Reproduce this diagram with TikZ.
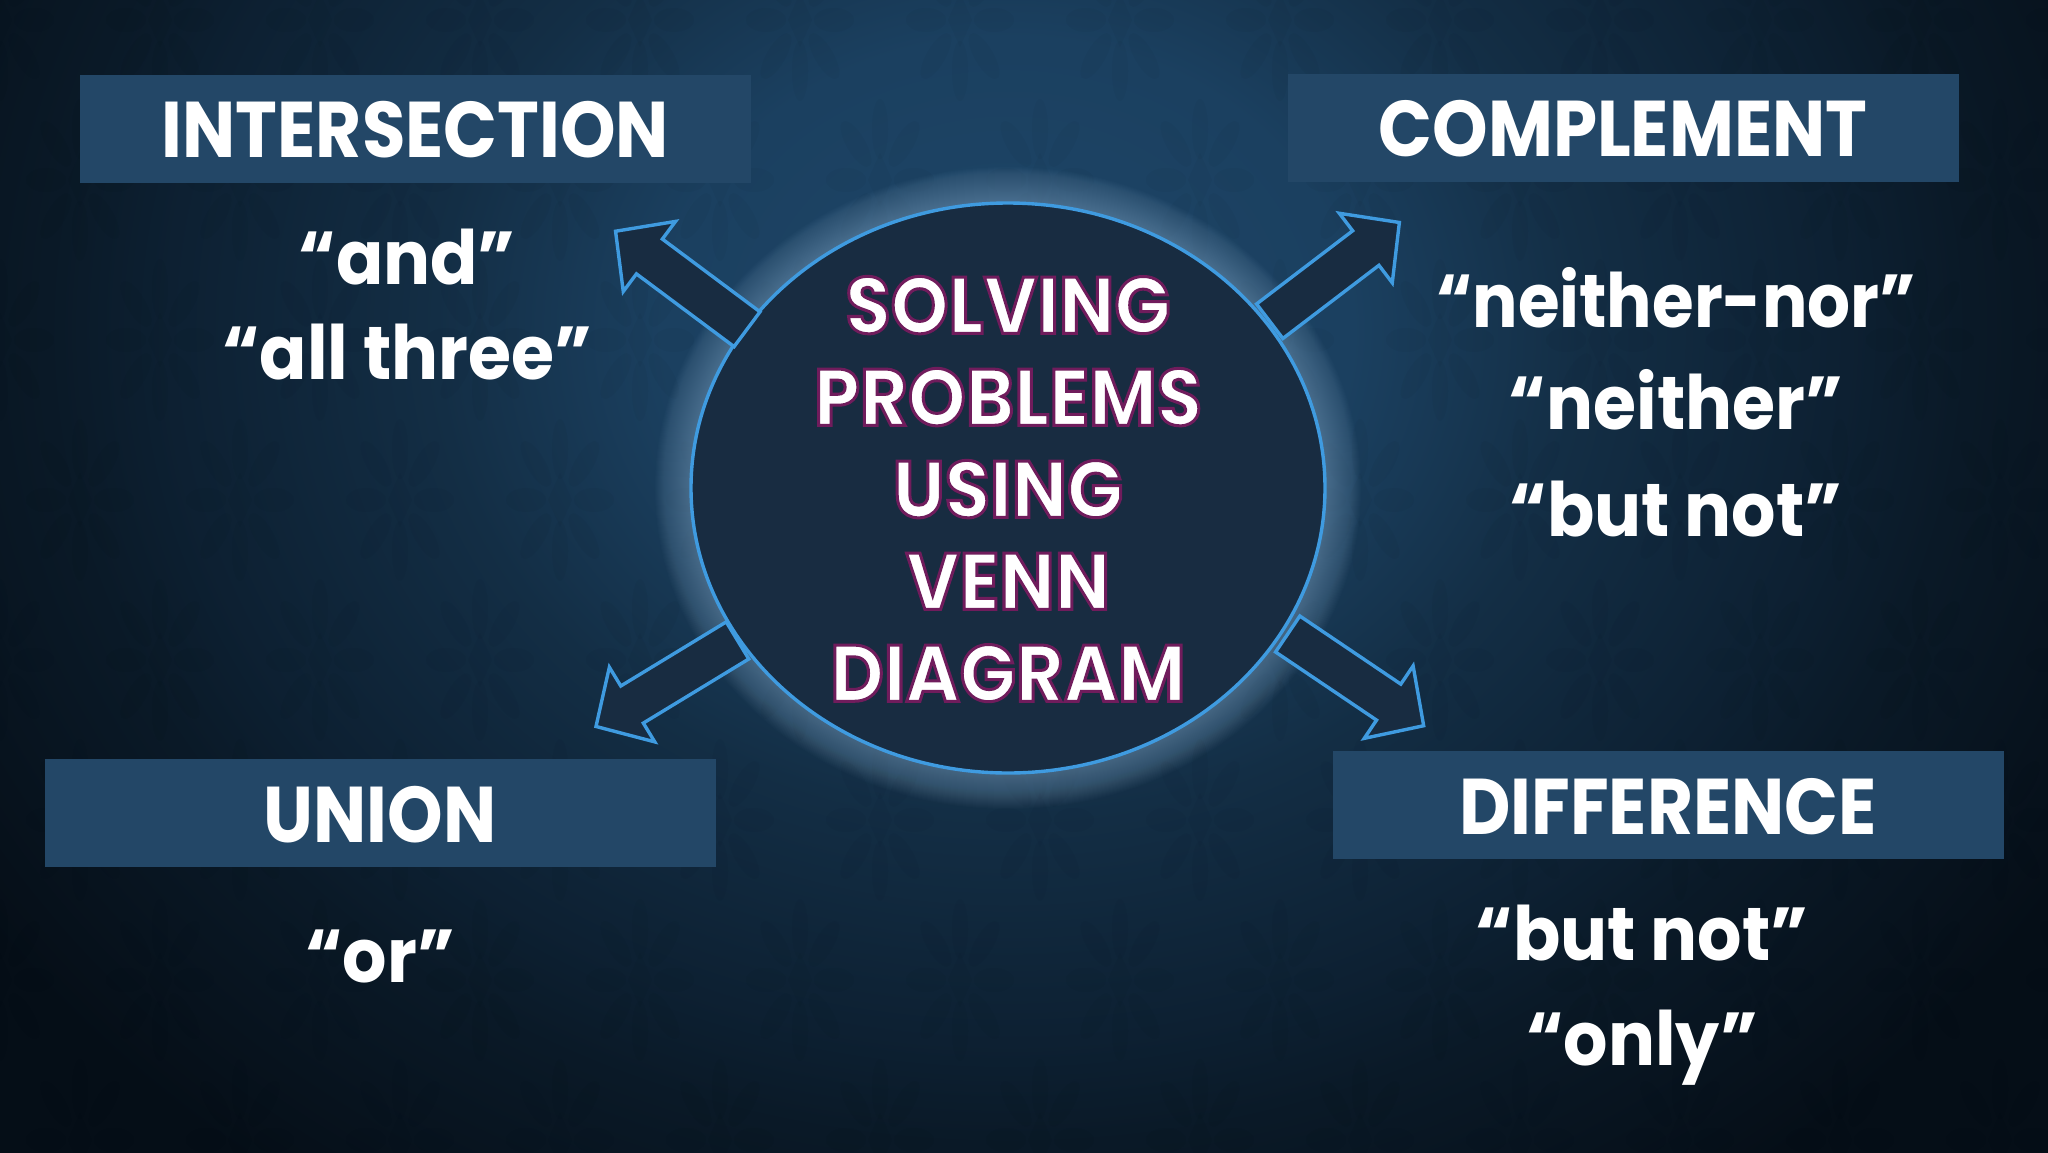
\documentclass[tikz,border=0pt]{standalone}
\usepackage{fontspec}
\setmainfont{Poppins}[BoldFont=Poppins Bold]
\newfontfamily\headfont{Poppins Bold}[FakeStretch=0.895]
\newfontfamily\quotefont{Poppins Bold}[FakeStretch=0.93]
\newfontfamily\titlefont{Poppins Bold}[FakeStretch=0.92]
\usetikzlibrary{shapes, arrows, calc}
\definecolor{boxblue}{HTML}{234767}
\definecolor{ovalfill}{HTML}{182C41}
\definecolor{ovalline}{HTML}{3F9BE0}
\definecolor{halocol}{HTML}{7FA3C2}
\pgfdeclareradialshading{slideback}{\pgfpoint{0bp}{0bp}}{%
  rgb(0bp)=(.12,.275,.41);
  rgb(6.3bp)=(.105,.25,.375);
  rgb(10.4bp)=(.075,.18,.27);
  rgb(15.3bp)=(.05,.125,.195);
  rgb(17.3bp)=(.04,.10,.155);
  rgb(22.5bp)=(.02,.055,.09);
  rgb(50bp)=(.02,.055,.09)}
\tikzset{
  headbox/.style={fill=boxblue, minimum width=671pt, minimum height=108pt, inner sep=0pt,
    text height=58pt, text depth=0pt, text=white, font=\fontsize{79}{79}\headfont},
  quoteline/.style={text=white, anchor=base, inner sep=0pt,
    font=\fontsize{75}{75}\quotefont},
  blockarrow/.style={single arrow, fill=ovalfill, draw=ovalline, line width=3.4pt, inner sep=0pt,
    text height=40pt, text depth=0pt, minimum width=84pt, single arrow head extend=22pt,
    single arrow tip angle=92, single arrow head indent=0pt},
  titletext/.style={text=white, align=center, inner sep=0pt,
    font=\fontsize{80}{92}\titlefont},
  damask/.style={fill=black, opacity=.028},
}
% outlined glyphs, stroke and fill
\newcommand{\rimtext}[1]{\special{pdf:code q 2 Tr 3 w 0.44 0.11 0.36 RG}#1\special{pdf:code 0 Tr Q}}
% one motif of the wallpaper
\newcommand{\damaskmotif}[2]{%
  \begin{scope}[shift={(#1,#2)}, yscale=1.5]
    \foreach \a in {0,45,...,315}
      \fill[damask, rotate=\a] (34,0) ellipse (20 and 8);
    \fill[damask] (0,-18) -- (12,0) -- (0,18) -- (-12,0) -- cycle;
  \end{scope}
}
\begin{document}
\begin{tikzpicture}[x=1pt,y=-1pt]
  \useasboundingbox (0,0) rectangle (2048,1152);
  \begin{scope}
    \clip (0,0) rectangle (2048,1152);
    \path[shading=slideback] (-370,-840) rectangle (2386,1500);
    \foreach \row in {0,...,7}
      \foreach \col in {0,...,13}
        \pgfmathsetmacro{\mx}{\col*160+mod(\row,2)*80}
        \pgfmathsetmacro{\my}{\row*160+20}
        \damaskmotif{\mx}{\my};
  \end{scope}
  % glow round the oval
  \foreach \r in {1,2,...,36}
    \fill[halocol, opacity=.024] (1008,488) ellipse ({317+\r} and {285+\r});
  % head boxes
  \node[headbox] (interbox) at (415.5,128.5) {INTERSECTION};
  \node[headbox] (compbox) at (1623,127.5) {COMPLEMENT};
  \node[headbox] (unionbox) at (380,813) {UNION};
  \node[headbox] (diffbox) at (1668,805) {DIFFERENCE};
  % the oval
  \node[ellipse, fill=ovalfill, draw=ovalline, line width=3.4pt, minimum width=634pt, minimum height=570pt,
    inner sep=0pt] (venn) at (1008,488) {};
  \node[titletext] (title) at (1008,489) {\rimtext{SOLVING\\PROBLEMS\\USING\\VENN\\DIAGRAM}};
  % arrows
  \node[blockarrow, minimum height=164pt, rotate=143.3] (arrowNW) at (689.7,286.5) {};
  \node[blockarrow, minimum height=163pt, rotate=37.3] (arrowNE) at (1326.2,278.2) {};
  \node[blockarrow, minimum height=165.6pt, rotate=211.3] (arrowSW) at (675.7,678) {};
  \node[blockarrow, minimum height=164pt, rotate=-34] (arrowSE) at (1347,674) {};
  % quoted words
  \node[quoteline] (qand) at (407,284) {“and”};
  \node[quoteline] (qall) at (407,379) {“all three”};
  \node[quoteline] (qneithernor) at (1676,327) {\addfontfeature{FakeStretch=0.9}“neither-nor”};
  \node[quoteline] (qneither) at (1676,429) {“neither”};
  \node[quoteline] (qbutnotA) at (1676,536) {“but not”};
  \node[quoteline] (qor) at (380,982) {“or”};
  \node[quoteline] (qbutnotB) at (1642,960) {“but not”};
  \node[quoteline] (qonly) at (1642,1065) {“only”};
\end{tikzpicture}
\end{document}
